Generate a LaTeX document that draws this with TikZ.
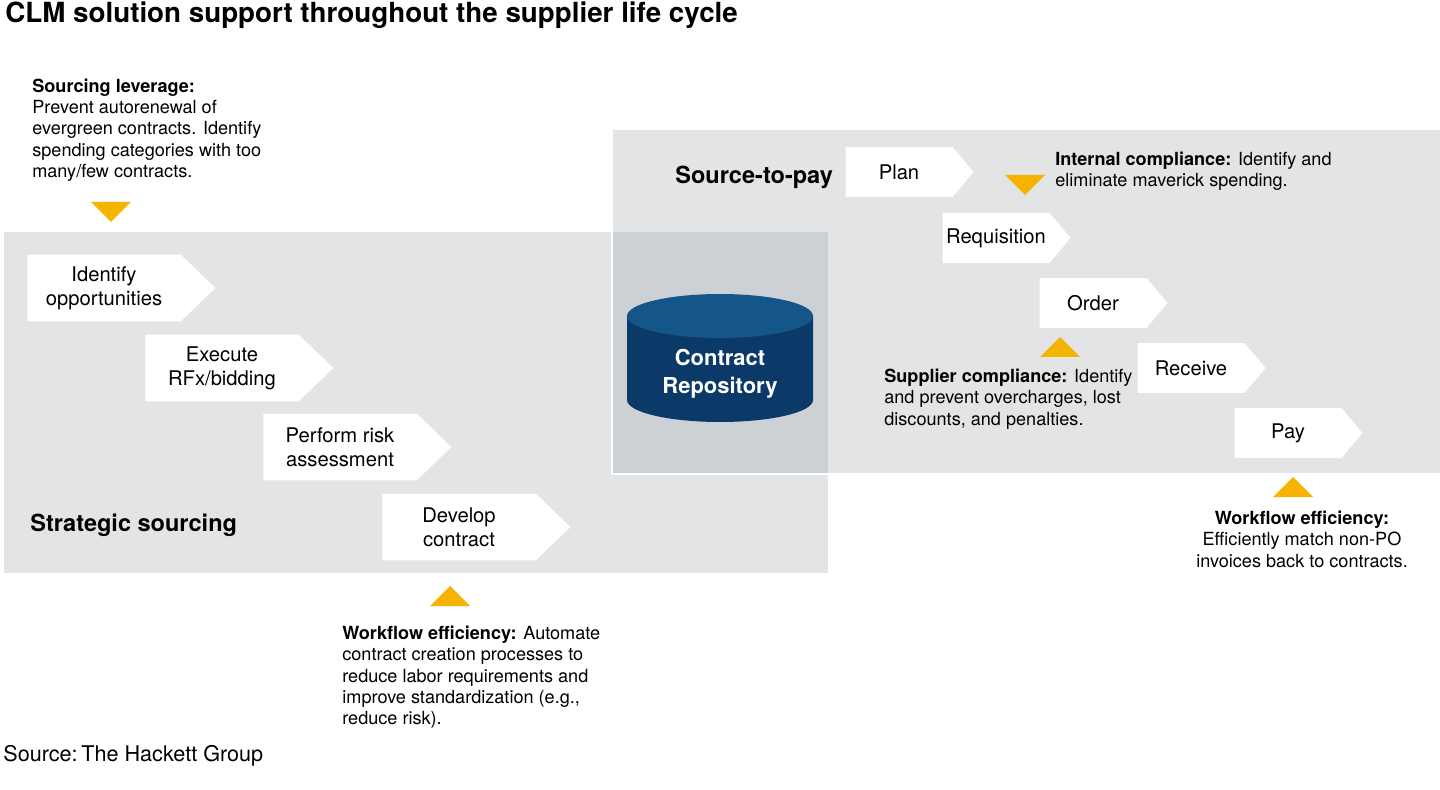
\documentclass[tikz,border=0pt]{standalone}
\usepackage{fontspec}
\setmainfont{TeX Gyre Heros}
\usetikzlibrary{shapes.symbols}
\definecolor{panel}{HTML}{E3E4E6}
\definecolor{overlap}{HTML}{CDD1D5}
\definecolor{gold}{HTML}{F5B400}
\definecolor{dbtop}{HTML}{14568A}
\definecolor{dbbody}{HTML}{0C3A68}
\tikzset{
  phase/.style={signal, signal to=east, fill=white, draw=none, align=center,
    font=\fontsize{11.5}{13.5}\selectfont, inner sep=0pt},
  bigphase/.style={phase, minimum width=3.76cm, minimum height=1.34cm, signal pointer angle=88},
  smallphase/.style={phase, minimum width=2.56cm, minimum height=1.0cm, signal pointer angle=100},
  note/.style={anchor=north west, align=left, inner sep=0pt, font=\fontsize{10.3}{12}\selectfont},
  heading/.style={anchor=west, inner sep=0pt, font=\bfseries\fontsize{13.4}{15}\selectfont},
  marker/.style={fill=gold, draw=none},
}
\begin{document}
\begin{tikzpicture}[x=0.02cm, y=-0.02cm]
\useasboundingbox (0,0) rectangle (1440,790);
\fill[white] (0,0) rectangle (1440,790);

% panels
\fill[panel] (4,232) rectangle (828,573);
\fill[panel] (612,130) rectangle (1440,474);
\fill[overlap] (612,232) rectangle (828,474);
\draw[white, line width=1.2pt] (612,474) -- (1440,474);
\draw[white, line width=1.2pt] (612,130) -- (612,474);

\node[anchor=west, inner sep=0pt, font=\bfseries\fontsize{15.8}{18}\selectfont] (title) at (5,15)
  {CLM solution support throughout the supplier life cycle};

% strategic sourcing phases
\node[bigphase] (identify) at (104,288) {Identify\\opportunities};
\node[bigphase] (execute) at (222,368) {Execute\\RFx/bidding};
\node[bigphase] (risk) at (340,447) {Perform risk\\assessment};
\node[bigphase] (develop) at (459,527) {Develop\\contract};
\node[heading] (strat) at (30,525) {Strategic sourcing};

% source-to-pay phases
\node[smallphase] (plan) at (899,172) {Plan};
\node[smallphase] (requisition) at (996,238) {Requisition};
\node[smallphase] (order) at (1093,303) {Order};
\node[smallphase] (receive) at (1191,368) {Receive};
\node[smallphase] (pay) at (1288,433) {Pay};
\node[heading] (s2p) at (675,177) {Source-to-pay};

% repository
\fill[dbbody] (627,316) -- (627,400) arc[start angle=180, end angle=0, x radius=93, y radius=22]
  -- (813,316) -- cycle;
\fill[dbtop] (720,316) ellipse[x radius=93, y radius=22];
\node[align=center, text=white, font=\bfseries\fontsize{12.5}{16}\selectfont] (repo) at (720,374)
  {Contract\\Repository};

% markers
\fill[marker] (91,202) -- (131,202) -- (111,222) -- cycle;
\fill[marker] (1005,175) -- (1045,175) -- (1025,195) -- cycle;
\fill[marker] (430,606) -- (470,606) -- (450,586) -- cycle;
\fill[marker] (1040,357) -- (1080,357) -- (1060,337) -- cycle;
\fill[marker] (1273,497) -- (1313,497) -- (1293,477) -- cycle;

% notes
\node[note] (leverage) at (32,79) {\textbf{Sourcing leverage:}\\Prevent autorenewal of\\evergreen contracts. Identify\\spending categories with too\\many/few contracts.};
\node[note] (internal) at (1055,152) {\textbf{Internal compliance:} Identify and\\eliminate maverick spending.};
\node[note] (supplier) at (884,369) {\textbf{Supplier compliance:} Identify\\and prevent overcharges, lost\\discounts, and penalties.};
\node[note, anchor=north, align=center] (matching) at (1302,511) {\textbf{Workflow efficiency:}\\Efficiently match non-PO\\invoices back to contracts.};
\node[note] (automate) at (342,626) {\textbf{Workflow efficiency:} Automate\\contract creation processes to\\reduce labor requirements and\\improve standardization (e.g.,\\reduce risk).};
\node[anchor=west, inner sep=0pt, font=\fontsize{12.3}{14}\selectfont] (source) at (3,756) {Source:\,The Hackett Group};
\end{tikzpicture}
\end{document}
